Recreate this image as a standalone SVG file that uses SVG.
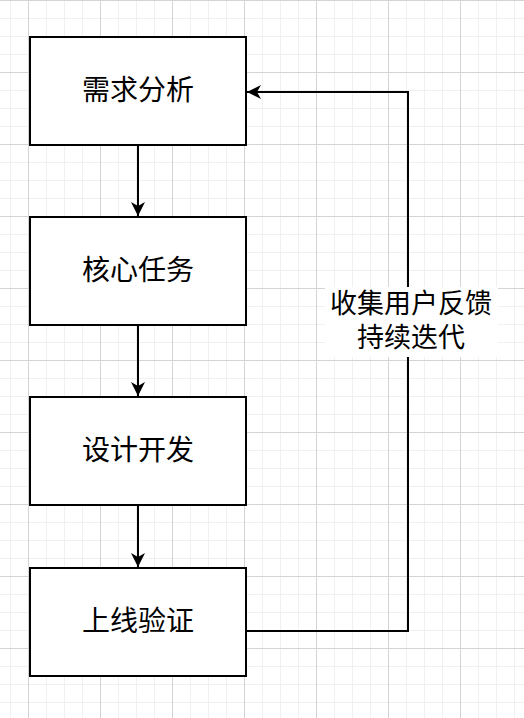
<svg xmlns="http://www.w3.org/2000/svg" width="524" height="718" viewBox="0 0 524 718">
  <style>
    .box { fill: #ffffff; stroke: #000000; stroke-width: 2; }
    .lbl { font-family: "Noto Sans CJK SC", "Noto Sans", sans-serif; font-size: 28px; fill: #000000; text-anchor: middle; dominant-baseline: central; }
    .elbl { font-family: "Noto Sans CJK SC", "Noto Sans", sans-serif; font-size: 27px; fill: #000000; text-anchor: middle; dominant-baseline: central; }
    .edge { fill: none; stroke: #000000; stroke-width: 2; }
  </style>
  <defs>
    <pattern id="grid" x="28" y="0" width="72" height="72" patternUnits="userSpaceOnUse">
      <path d="M18.5 0V72M36.5 0V72M54.5 0V72M0 18.5H72M0 36.5H72M0 54.5H72" stroke="#f0f0f0" stroke-width="1" fill="none"/>
      <path d="M0.5 0V72M0 0.5H72" stroke="#d4d4d4" stroke-width="1" fill="none"/>
    </pattern>
    <marker id="arr" viewBox="0 0 14 14" refX="14" refY="7" markerWidth="14" markerHeight="14" markerUnits="userSpaceOnUse" orient="auto">
      <path d="M0 0L14 7L0 14L4 7Z" fill="#000000"/>
    </marker>
  </defs>
  <rect x="0" y="0" width="524" height="718" fill="#ffffff"/>
  <rect x="0" y="0" width="524" height="718" fill="url(#grid)"/>

  <g id="connectors">
    <path class="edge" d="M138 146V216" marker-end="url(#arr)"/>
    <path class="edge" d="M138 326V396" marker-end="url(#arr)"/>
    <path class="edge" d="M138 506V567" marker-end="url(#arr)"/>
    <path class="edge" d="M246 631H408V92H247" marker-end="url(#arr)"/>
    <rect x="325" y="287" width="173" height="70" fill="#ffffff"/>
    <text class="elbl" x="411"><tspan x="411" y="301">收集用户反馈</tspan><tspan x="411" y="335">持续迭代</tspan></text>
  </g>

  <g id="node1">
    <rect class="box" x="30" y="37" width="216" height="108"/>
    <text class="lbl" x="138" y="88">需求分析</text>
  </g>
  <g id="node2">
    <rect class="box" x="30" y="217" width="216" height="108"/>
    <text class="lbl" x="138" y="268">核心任务</text>
  </g>
  <g id="node3">
    <rect class="box" x="30" y="397" width="216" height="108"/>
    <text class="lbl" x="138" y="448">设计开发</text>
  </g>
  <g id="node4">
    <rect class="box" x="30" y="568" width="216" height="108"/>
    <text class="lbl" x="138" y="619">上线验证</text>
  </g>
</svg>
